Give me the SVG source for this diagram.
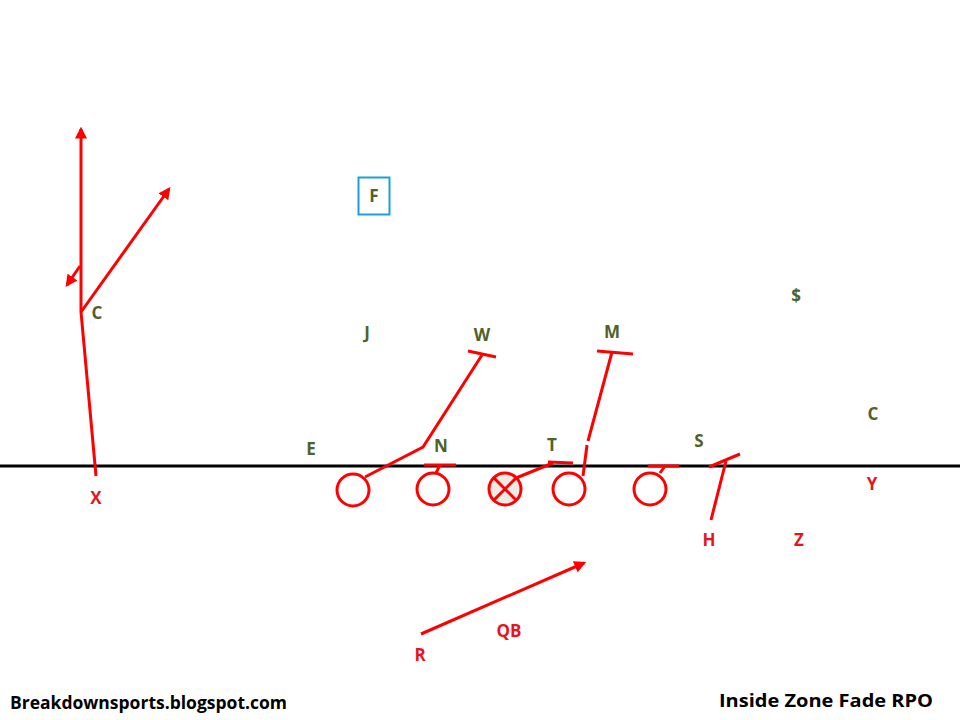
<svg xmlns="http://www.w3.org/2000/svg" width="960" height="720" viewBox="0 0 960 720">
<style>
.g{fill:#4F6228;font-family:"Open Sans","Liberation Sans",sans-serif;font-weight:bold;font-size:17px;text-anchor:middle}
.r{fill:#E8141B;font-family:"Open Sans","Liberation Sans",sans-serif;font-weight:bold;font-size:17px;text-anchor:middle}
.k{fill:#000;font-family:"Open Sans","Liberation Sans",sans-serif;font-weight:bold;font-size:17px}
.rl{stroke:#F00;stroke-width:3;fill:none;stroke-linecap:butt}
.ol{stroke:#F00;stroke-width:3;fill:#fff}
</style>
<defs>
<marker id="ah" viewBox="0 0 10 10" refX="8" refY="5" markerWidth="4" markerHeight="4" orient="auto" markerUnits="strokeWidth">
<path d="M0,0 L10,5 L0,10 z" fill="#F00"/>
</marker>
</defs>
<rect width="960" height="720" fill="#fff"/>
<line x1="0" y1="466" x2="960" y2="466" stroke="#000" stroke-width="3"/>
<g id="connectors">
<polyline class="rl" points="96,476 81,312 81,129" marker-end="url(#ah)"/>
<line class="rl" x1="81" y1="312" x2="169" y2="189" marker-end="url(#ah)"/>
<line class="rl" x1="80" y1="266" x2="67" y2="285" marker-end="url(#ah)"/>
<polyline class="rl" points="365,477 423,447 482,355"/>
<line class="rl" x1="468" y1="351" x2="496" y2="357"/>
<line class="rl" x1="436" y1="473" x2="440" y2="465"/>
<line class="rl" x1="424" y1="465" x2="456" y2="465"/>
<line class="rl" x1="516" y1="478" x2="553" y2="463"/>
<line class="rl" x1="548" y1="462" x2="573" y2="463"/>
<line class="rl" x1="583" y1="476" x2="587" y2="445"/>
<line class="rl" x1="588" y1="441" x2="612" y2="352"/>
<line class="rl" x1="597" y1="351" x2="633" y2="354"/>
<line class="rl" x1="660" y1="473" x2="665" y2="466"/>
<line class="rl" x1="648" y1="466" x2="679" y2="466"/>
<line class="rl" x1="711" y1="520" x2="726" y2="461"/>
<line class="rl" x1="709" y1="467" x2="740" y2="454"/>
<line class="rl" x1="421" y1="634" x2="584" y2="563" marker-end="url(#ah)"/>
</g>
<g id="ol1"><circle class="ol" cx="353" cy="490" r="16"/></g>
<g id="ol2"><circle class="ol" cx="433" cy="489" r="16"/></g>
<g id="center"><circle cx="505" cy="489" r="16" stroke="#F00" stroke-width="3" fill="#EEEBE6"/>
<line class="rl" x1="494" y1="478" x2="516" y2="500"/><line class="rl" x1="516" y1="478" x2="494" y2="500"/></g>
<g id="ol4"><circle class="ol" cx="569" cy="489" r="16"/></g>
<g id="ol5"><circle class="ol" cx="650" cy="489" r="16"/></g>
<g id="F"><rect x="358.5" y="177.5" width="31" height="37" fill="none" stroke="#1AA0DB" stroke-width="2"/><text class="g" x="374" y="202">F</text></g>
<g id="C1"><text class="g" x="97" y="319">C</text></g>
<g id="J"><text class="g" x="367" y="339">J</text></g>
<g id="W"><text class="g" x="482" y="341">W</text></g>
<g id="M"><text class="g" x="612" y="338">M</text></g>
<g id="dollar"><text class="g" x="796" y="302">$</text></g>
<g id="C2"><text class="g" x="873" y="420">C</text></g>
<g id="E"><text class="g" x="311" y="455">E</text></g>
<g id="N"><text class="g" x="441" y="452">N</text></g>
<g id="T"><text class="g" x="552" y="451">T</text></g>
<g id="S"><text class="g" x="699" y="447">S</text></g>
<g id="X"><text class="r" x="96" y="504">X</text></g>
<g id="Y"><text class="r" x="872" y="490">Y</text></g>
<g id="H"><text class="r" x="709" y="546">H</text></g>
<g id="Z"><text class="r" x="799" y="546">Z</text></g>
<g id="R"><text class="r" x="420" y="661">R</text></g>
<g id="QB"><text class="r" x="509" y="637">QB</text></g>
<text class="k" x="10" y="709" textLength="277" lengthAdjust="spacingAndGlyphs">Breakdownsports.blogspot.com</text>
<text class="k" x="719" y="707" textLength="214" lengthAdjust="spacingAndGlyphs">Inside Zone Fade RPO</text>
</svg>
